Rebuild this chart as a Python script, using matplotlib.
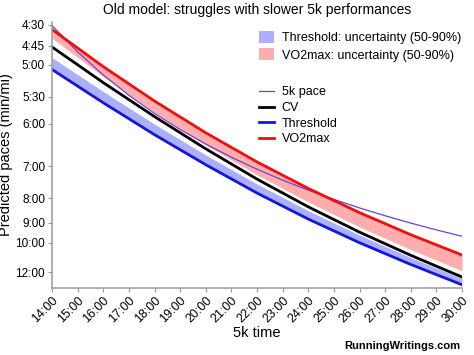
import matplotlib
matplotlib.use("Agg")
import matplotlib.pyplot as plt
from matplotlib.patches import Patch
from matplotlib.lines import Line2D
import numpy as np

plt.rcParams['font.family'] = ['Liberation Sans', 'DejaVu Sans']

# 5k time (minutes)
times = [14, 16, 18, 20, 22, 24, 26, 28, 30]
# predicted paces (minutes per mile)
cv_pace = [4.765, 5.267, 5.856, 6.550, 7.371, 8.328, 9.446, 10.768, 12.396]
threshold_pace = [5.070, 5.601, 6.226, 6.957, 7.823, 8.832, 10.007, 11.399, 13.101]
threshold_band_fast = [4.904, 5.410, 6.005, 6.701, 7.523, 8.480, 9.594, 10.913, 12.527]
vo2max_pace = [4.552, 5.029, 5.570, 6.185, 6.882, 7.667, 8.559, 9.575, 10.748]
vo2max_band_slow = [4.654, 5.174, 5.773, 6.457, 7.241, 8.141, 9.188, 10.412, 11.871]

times_5k = [14, 15, 16, 17, 18, 19, 20, 21, 22, 23, 24, 25, 26, 27, 28, 29, 30]
pace_5k = [4.506, 4.828, 5.150, 5.472, 5.794, 6.115, 6.437, 6.759, 7.081,
           7.403, 7.725, 8.047, 8.369, 8.690, 9.012, 9.334, 9.656]

ytick_paces = [4.5, 4.75, 5.0, 5.5, 6.0, 7.0, 8.0, 9.0, 10.0, 12.0]
ytick_labels = ["4:30", "4:45", "5:00", "5:30", "6:00", "7:00", "8:00", "9:00", "10:00", "12:00"]
xtick_vals = list(range(14, 31))
xtick_labels = [f"{m}:00" for m in xtick_vals]


def spd(p):
    return 1.0 / np.asarray(p, dtype=float)


W, H = 474, 355
fig = plt.figure(figsize=(W / 100, H / 100), dpi=100)
ax = fig.add_axes([52 / W, 1 - 288 / H, (462 - 52) / W, (288 - 22) / H])

c_blue_band = '#aab0ff'
c_red_band = '#ffadad'
c_red = '#ee0f0f'
c_blue = '#1414e0'
c_purple = '#7040d0'

ax.fill_between(times, spd(threshold_pace), spd(threshold_band_fast), color=c_blue_band, lw=0)
ax.fill_between(times, spd(vo2max_pace), spd(vo2max_band_slow), color=c_red_band, lw=0)

ax.plot(times, spd(cv_pace), color='black', lw=2.0)
ax.plot(times, spd(threshold_pace), color=c_blue, lw=2.0)
ax.plot(times_5k, spd(pace_5k), color=c_purple, lw=0.9)
ax.plot(times, spd(vo2max_pace), color=c_red, lw=2.0)

ax.set_xlim(14, 30)
ax.set_ylim(0.0745, 0.2239)
ax.set_yticks(spd(ytick_paces))
ax.set_yticklabels(ytick_labels, fontsize=8.5)
ax.set_xticks(xtick_vals)
ax.set_xticklabels(xtick_labels, fontsize=9, rotation=45, ha='right', rotation_mode='anchor')

for s in ['top', 'right']:
    ax.spines[s].set_visible(False)
for s in ['left', 'bottom']:
    ax.spines[s].set_color('#999999')
    ax.spines[s].set_linewidth(1.1)
ax.tick_params(axis='both', colors='#999999', length=3, width=0.8, labelcolor='black', pad=2)

ax.set_xlabel("5k time", fontsize=10.5, labelpad=0)
ax.set_ylabel("Predicted paces (min/mi)", fontsize=10.5, labelpad=2)
fig.text(257 / W, 1 - 10 / H, "Old model: struggles with slower 5k performances",
         ha='center', va='center', fontsize=10)
fig.text(460 / W, 1 - 346 / H, "RunningWritings.com", ha='right', va='center',
         fontsize=8, fontweight='bold')

band_handles = [Patch(facecolor=c_blue_band, edgecolor='none'),
                Patch(facecolor=c_red_band, edgecolor='none')]
band_labels = ["Threshold: uncertainty (50-90%)", "VO2max: uncertainty (50-90%)"]
leg1 = fig.legend(band_handles, band_labels, loc='upper left',
                  bbox_to_anchor=(253 / W, 1 - 25 / H), frameon=False, fontsize=9,
                  borderpad=0, handlelength=1.2, handleheight=1.1, handletextpad=0.6,
                  labelspacing=0.3)

line_handles = [Line2D([], [], color=c_purple, lw=0.9),
                Line2D([], [], color='black', lw=2.0),
                Line2D([], [], color=c_blue, lw=2.0),
                Line2D([], [], color=c_red, lw=2.0)]
line_labels = ["5k pace", "CV", "Threshold", "VO2max"]
leg2 = fig.legend(line_handles, line_labels, loc='upper left',
                  bbox_to_anchor=(253 / W, 1 - 80 / H), frameon=False, fontsize=9,
                  borderpad=0, handlelength=1.2, handletextpad=0.6, labelspacing=0.3)

fig.savefig("out.png", dpi=100)
